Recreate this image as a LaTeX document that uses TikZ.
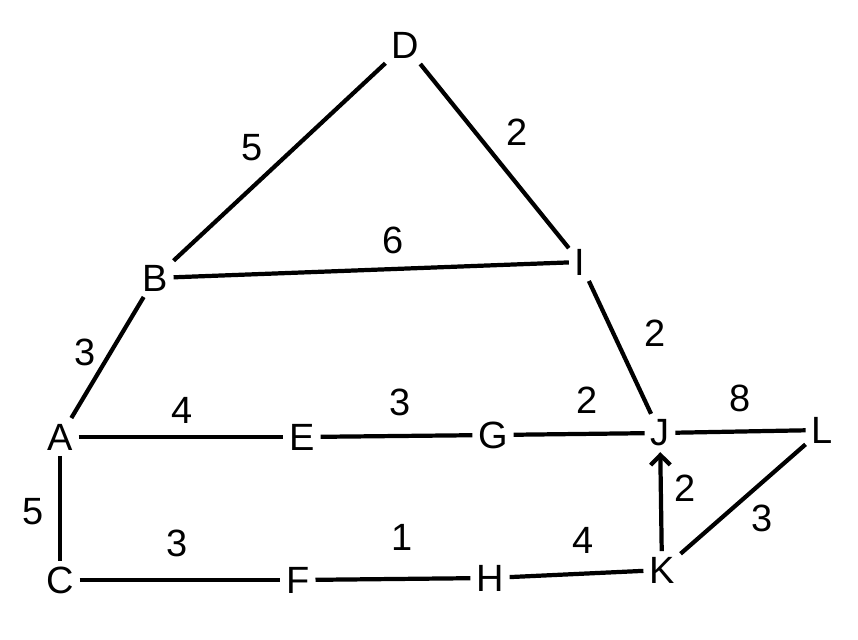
\documentclass[tikz,border=0pt]{standalone}
\usepackage{fontspec}
\setmainfont{Liberation Sans}
\usetikzlibrary{arrows.meta}

\tikzset{
  vert/.style={inner sep=4pt, font=\fontsize{27}{30}\selectfont},
  wt/.style={inner sep=0pt, font=\fontsize{27}{30}\selectfont},
  edge/.style={line width=3pt}
}

\begin{document}
\begin{tikzpicture}[x=0.025cm, y=-0.025cm]
    \useasboundingbox (0, 0) rectangle (858, 640);
    % vertices
    \node[vert] (D) at (405, 45) {D};
    \node[vert] (B) at (155, 278) {B};
    \node[vert] (I) at (580, 262) {I};
    \node[vert] (A) at (60, 437) {A};
    \node[vert] (E) at (302, 437) {E};
    \node[vert] (G) at (493, 435) {G};
    \node[vert] (J) at (660, 433) {J};
    \node[vert] (L) at (822, 430) {L};
    \node[vert] (C) at (60, 580) {C};
    \node[vert] (F) at (298, 580) {F};
    \node[vert] (H) at (490, 578) {H};
    \node[vert] (K) at (662, 570) {K};
    % edges
    \draw[edge] (B) -- (D);
    \draw[edge] (D) -- (I);
    \draw[edge] (B) -- (I);
    \draw[edge] (A) -- (B);
    \draw[edge] (I) -- (J);
    \draw[edge] (A) -- (E);
    \draw[edge] (E) -- (G);
    \draw[edge] (G) -- (J);
    \draw[edge] (J) -- (L);
    \draw[edge] (A) -- (C);
    \draw[edge] (C) -- (F);
    \draw[edge] (F) -- (H);
    \draw[edge] (H) -- (K);
    \draw[edge] (K) -- (L);
    \draw[edge,-{Straight Barb[length=7pt,width=14pt]}] (K) -- (J);
    % weights
    \node[wt] (wBD) at (252, 148) {5};
    \node[wt] (wDI) at (517, 132) {2};
    \node[wt] (wBI) at (393, 240) {6};
    \node[wt] (wAB) at (85, 352) {3};
    \node[wt] (wIJ) at (655, 333) {2};
    \node[wt] (wAE) at (182, 410) {4};
    \node[wt] (wEG) at (400, 402) {3};
    \node[wt] (wGJ) at (587, 400) {2};
    \node[wt] (wJL) at (740, 398) {8};
    \node[wt] (wAC) at (33, 512) {5};
    \node[wt] (wKJ) at (685, 488) {2};
    \node[wt] (wKL) at (762, 518) {3};
    \node[wt] (wCF) at (177, 543) {3};
    \node[wt] (wFH) at (402, 537) {1};
    \node[wt] (wHK) at (583, 540) {4};
\end{tikzpicture}
\end{document}
